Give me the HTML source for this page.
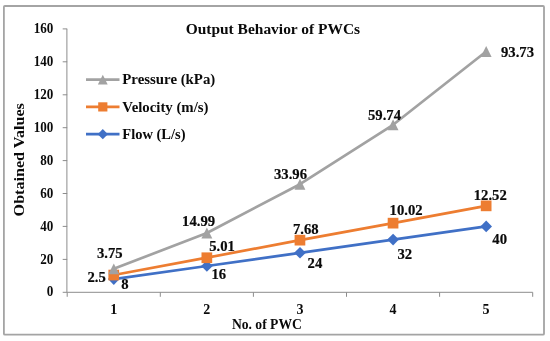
<!DOCTYPE html>
<html><head><meta charset="utf-8"><title>Output Behavior of PWCs</title>
<style>
html,body{margin:0;padding:0;background:#fff;}
body{width:550px;height:341px;overflow:hidden;}
svg{display:block}
text{font-family:"Liberation Serif","DejaVu Serif",serif;font-weight:bold;fill:#0a0a0a;}
.t13{font-size:13.5px}.t14{font-size:14.7px}
</style></head><body>
<svg width="550" height="341" viewBox="0 0 550 341">
<rect x="0" y="0" width="550" height="341" fill="#fff"/>
<rect x="3.9" y="6" width="540.1" height="328.7" rx="1" fill="#fff" stroke="#a4a4a4" stroke-width="1.8"/>

<g stroke="#8c8c8c" stroke-width="1" fill="none">
<line x1="66.9" y1="28.9" x2="66.9" y2="292.3"/>
<line x1="67.2" y1="292.3" x2="532.7" y2="292.3"/>
<line x1="62.7" y1="292.3" x2="67.2" y2="292.3"/>
<line x1="62.7" y1="259.4" x2="67.2" y2="259.4"/>
<line x1="62.7" y1="226.4" x2="67.2" y2="226.4"/>
<line x1="62.7" y1="193.5" x2="67.2" y2="193.5"/>
<line x1="62.7" y1="160.6" x2="67.2" y2="160.6"/>
<line x1="62.7" y1="127.7" x2="67.2" y2="127.7"/>
<line x1="62.7" y1="94.8" x2="67.2" y2="94.8"/>
<line x1="62.7" y1="61.8" x2="67.2" y2="61.8"/>
<line x1="62.7" y1="28.9" x2="67.2" y2="28.9"/>
<line x1="67.2" y1="292.3" x2="67.2" y2="296.8"/>
<line x1="160.3" y1="292.3" x2="160.3" y2="296.8"/>
<line x1="253.4" y1="292.3" x2="253.4" y2="296.8"/>
<line x1="346.5" y1="292.3" x2="346.5" y2="296.8"/>
<line x1="439.6" y1="292.3" x2="439.6" y2="296.8"/>
<line x1="532.7" y1="292.3" x2="532.7" y2="296.8"/>
</g>
<text font-size="14" x="46.7" y="296.4" textLength="6.6" lengthAdjust="spacingAndGlyphs">0</text>
<text font-size="14" x="40.2" y="263.5" textLength="13.1" lengthAdjust="spacingAndGlyphs">20</text>
<text font-size="14" x="40.2" y="230.5" textLength="13.1" lengthAdjust="spacingAndGlyphs">40</text>
<text font-size="14" x="40.2" y="197.6" textLength="13.1" lengthAdjust="spacingAndGlyphs">60</text>
<text font-size="14" x="40.2" y="164.7" textLength="13.1" lengthAdjust="spacingAndGlyphs">80</text>
<text font-size="14" x="33.7" y="131.8" textLength="19.6" lengthAdjust="spacingAndGlyphs">100</text>
<text font-size="14" x="33.7" y="98.8" textLength="19.6" lengthAdjust="spacingAndGlyphs">120</text>
<text font-size="14" x="33.7" y="65.9" textLength="19.6" lengthAdjust="spacingAndGlyphs">140</text>
<text font-size="14" x="33.7" y="33.0" textLength="19.6" lengthAdjust="spacingAndGlyphs">160</text>
<text font-size="14" x="113.7" y="314.3" text-anchor="middle">1</text>
<text font-size="14" x="206.8" y="314.3" text-anchor="middle">2</text>
<text font-size="14" x="299.9" y="314.3" text-anchor="middle">3</text>
<text font-size="14" x="392.9" y="314.3" text-anchor="middle">4</text>
<text font-size="14" x="486.1" y="314.3" text-anchor="middle">5</text>
<text x="272.9" y="33.6" text-anchor="middle" font-size="15" textLength="174.5" lengthAdjust="spacingAndGlyphs" id="title">Output Behavior of PWCs</text>
<text x="266.9" y="329" text-anchor="middle" font-size="14" textLength="70" lengthAdjust="spacingAndGlyphs" id="xt">No. of PWC</text>
<text transform="translate(23.8,159.8) rotate(-90)" text-anchor="middle" font-size="15.5" textLength="113.2" lengthAdjust="spacingAndGlyphs" id="yt">Obtained Values</text>
<polyline points="113.8,279.1 206.9,266.0 300.0,252.8 393.1,239.6 486.2,226.4" fill="none" stroke="#4070c6" stroke-width="2.7" stroke-linejoin="round" stroke-linecap="round"/>
<path d="M113.8 273.3 L119.5 279.1 L113.8 284.9 L108.0 279.1 Z" fill="#4070c6"/>
<path d="M206.9 260.2 L212.7 266.0 L206.9 271.8 L201.1 266.0 Z" fill="#4070c6"/>
<path d="M300.0 247.0 L305.8 252.8 L300.0 258.6 L294.2 252.8 Z" fill="#4070c6"/>
<path d="M393.1 233.8 L398.9 239.6 L393.1 245.4 L387.2 239.6 Z" fill="#4070c6"/>
<path d="M486.2 220.6 L492.0 226.4 L486.2 232.2 L480.4 226.4 Z" fill="#4070c6"/>
<polyline points="113.8,275.0 206.9,257.7 300.0,240.1 393.1,223.1 486.2,205.8" fill="none" stroke="#ed7d31" stroke-width="2.7" stroke-linejoin="round" stroke-linecap="round"/>
<rect x="108.4" y="269.7" width="10.7" height="10.7" fill="#ed7d31"/>
<rect x="201.5" y="252.4" width="10.7" height="10.7" fill="#ed7d31"/>
<rect x="294.6" y="234.8" width="10.7" height="10.7" fill="#ed7d31"/>
<rect x="387.7" y="217.8" width="10.7" height="10.7" fill="#ed7d31"/>
<rect x="480.8" y="200.5" width="10.7" height="10.7" fill="#ed7d31"/>
<polyline points="113.8,268.8 206.9,233.0 300.0,184.2 393.1,124.8 486.2,51.5" fill="none" stroke="#a2a2a2" stroke-width="2.7" stroke-linejoin="round" stroke-linecap="round"/>
<path d="M113.8 263.4 L119.2 274.3 L108.3 274.3 Z" fill="#a2a2a2"/>
<path d="M206.9 227.6 L212.3 238.5 L201.4 238.5 Z" fill="#a2a2a2"/>
<path d="M300.0 178.8 L305.4 189.7 L294.5 189.7 Z" fill="#a2a2a2"/>
<path d="M393.1 119.3 L398.5 130.2 L387.6 130.2 Z" fill="#a2a2a2"/>
<path d="M486.2 46.1 L491.6 57.0 L480.7 57.0 Z" fill="#a2a2a2"/>
<line x1="86" y1="79.6" x2="119.5" y2="79.6" stroke="#a2a2a2" stroke-width="2.7"/>
<path d="M102.8 74.7 L107.7 84.5 L97.9 84.5 Z" fill="#a2a2a2"/>
<text x="122.3" y="84.4" font-size="15" textLength="93" lengthAdjust="spacingAndGlyphs" class="lg">Pressure (kPa)</text>
<line x1="86" y1="106.9" x2="119.5" y2="106.9" stroke="#ed7d31" stroke-width="2.7"/>
<rect x="98.2" y="102.3" width="9.2" height="9.2" fill="#ed7d31"/>
<text x="122.3" y="111.7" font-size="15" textLength="86.2" lengthAdjust="spacingAndGlyphs" class="lg">Velocity (m/s)</text>
<line x1="86" y1="134.2" x2="119.5" y2="134.2" stroke="#4070c6" stroke-width="2.7"/>
<path d="M102.8 129.1 L107.9 134.2 L102.8 139.3 L97.7 134.2 Z" fill="#4070c6"/>
<text x="122.3" y="139.0" font-size="15" textLength="63.2" lengthAdjust="spacingAndGlyphs" class="lg">Flow (L/s)</text>
<text font-size="15.5" transform="translate(97,257.7) scale(0.948,1)" stroke="#0a0a0a" stroke-width="0.2">3.75</text>
<text font-size="15.5" transform="translate(182.1,226.3) scale(0.948,1)" stroke="#0a0a0a" stroke-width="0.2">14.99</text>
<text font-size="15.5" transform="translate(274,179) scale(0.948,1)" stroke="#0a0a0a" stroke-width="0.2">33.96</text>
<text font-size="15.5" transform="translate(368.0,119.7) scale(0.948,1)" stroke="#0a0a0a" stroke-width="0.2">59.74</text>
<text font-size="15.5" transform="translate(501,56.5) scale(0.948,1)" stroke="#0a0a0a" stroke-width="0.2">93.73</text>
<text font-size="15.5" transform="translate(87.5,281.5) scale(0.948,1)" stroke="#0a0a0a" stroke-width="0.2">2.5</text>
<text font-size="15.5" transform="translate(209.2,251) scale(0.948,1)" stroke="#0a0a0a" stroke-width="0.2">5.01</text>
<text font-size="15.5" transform="translate(293.0,233.7) scale(0.948,1)" stroke="#0a0a0a" stroke-width="0.2">7.68</text>
<text font-size="15.5" transform="translate(389.6,215.4) scale(0.948,1)" stroke="#0a0a0a" stroke-width="0.2">10.02</text>
<text font-size="15.5" transform="translate(473.7,199.5) scale(0.948,1)" stroke="#0a0a0a" stroke-width="0.2">12.52</text>
<text font-size="15.5" transform="translate(121.3,288.7) scale(0.948,1)" stroke="#0a0a0a" stroke-width="0.2">8</text>
<text font-size="15.5" transform="translate(211.4,279) scale(0.948,1)" stroke="#0a0a0a" stroke-width="0.2">16</text>
<text font-size="15.5" transform="translate(307.6,267.9) scale(0.948,1)" stroke="#0a0a0a" stroke-width="0.2">24</text>
<text font-size="15.5" transform="translate(397.5,258.6) scale(0.948,1)" stroke="#0a0a0a" stroke-width="0.2">32</text>
<text font-size="15.5" transform="translate(492.3,244) scale(0.948,1)" stroke="#0a0a0a" stroke-width="0.2">40</text>
</svg></body></html>
